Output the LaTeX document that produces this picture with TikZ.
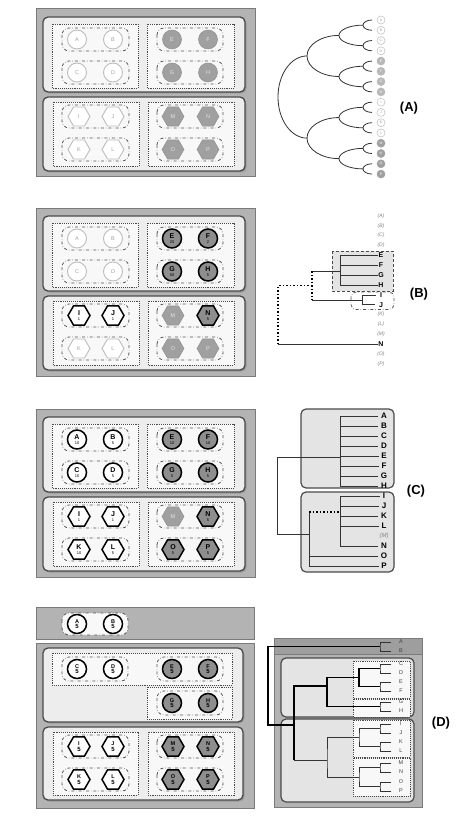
\documentclass[tikz,border=0pt]{standalone}
\usepackage{fontspec}
\setmainfont{Liberation Sans}
\usetikzlibrary{shapes.geometric,calc}
\definecolor{outerfill}{HTML}{B3B3B3}
\definecolor{outerdraw}{HTML}{7A7A7A}
\definecolor{innerfill}{HTML}{EDEDED}
\definecolor{innerdraw}{HTML}{4A4A4A}
\definecolor{groupfill}{HTML}{F8F8F8}
\definecolor{groupdraw}{HTML}{4A4A4A}
\definecolor{pairdraw}{HTML}{555555}
\definecolor{gfill}{HTML}{8E8E8E}
\definecolor{afill}{HTML}{A0A0A0}
\definecolor{faint}{HTML}{BDBDBD}
\definecolor{treeline}{HTML}{333333}
\definecolor{treebox}{HTML}{E4E4E4}
\tikzset{
  outerbox/.style={fill=outerfill, draw=outerdraw, line width=1pt},
  innerbox/.style={fill=innerfill, draw=innerdraw, line width=1.3pt, rounded corners=5pt},
  shadowbox/.style={fill=black!40, rounded corners=5pt},
  groupbox/.style={fill=groupfill, draw=groupdraw, densely dotted, line width=0.9pt},
  pairbox/.style={draw=pairdraw, dash dot, line width=0.8pt, rounded corners=7pt},
  circ/.style={circle, minimum size=19pt, inner sep=0pt, align=center, font=\fontsize{5}{5}\selectfont},
  hexa/.style={regular polygon, regular polygon sides=6, minimum size=22pt, inner sep=0pt, align=center, font=\fontsize{5}{5}\selectfont},
  aw/.style={fill=white, draw=faint, line width=0.9pt, text=faint!85!black},
  ag/.style={fill=afill, draw=afill!90!black, line width=0.5pt, text=white!80!gray},
  bw/.style={fill=white, draw=black, line width=1.5pt, text=black},
  bg/.style={fill=gfill, draw=black, line width=1.5pt, text=black},
  leafc/.style={circle, minimum size=8pt, inner sep=0pt, font=\fontsize{3.5}{4}\selectfont},
  lw/.style={fill=white, draw=faint, line width=0.5pt, text=faint!80!black},
  lg/.style={fill=afill!75, draw=afill!75, line width=0.5pt, text=white},
  ldg/.style={fill=afill, draw=afill, line width=0.5pt, text=white},
  treeA/.style={draw=treeline, line width=0.8pt},
  tline/.style={draw=treeline, line width=0.8pt},
  tthick/.style={draw=black, line width=1.6pt},
  tdot/.style={draw=black, dotted, line width=1.5pt},
  blab/.style={font=\fontsize{7}{7}\selectfont\bfseries, inner sep=0.5pt},
  bit/.style={font=\fontsize{5}{5}\selectfont\itshape, text=gray, inner sep=0.5pt},
  clab/.style={font=\fontsize{8}{8}\selectfont\bfseries, inner sep=0.5pt},
  dlab/.style={font=\fontsize{5.5}{5.5}\selectfont, text=black!75, inner sep=0.5pt},
  panlab/.style={font=\fontsize{13}{13}\selectfont\bfseries},
  treeboxs/.style={fill=treebox, draw=innerdraw, line width=1.2pt, rounded corners=5pt}
}
\newcommand\la[1]{{\fontsize{5.5}{6}\selectfont #1}}
\newcommand\lb[2]{{\fontsize{7}{7}\selectfont\bfseries #1}\\[-0.5pt]{\fontsize{4}{4}\selectfont #2}}
\newcommand\ld[2]{{\fontsize{5.5}{5.5}\selectfont\bfseries #1}\\[0.5pt]{\fontsize{6}{6}\selectfont\bfseries #2}}
\newcommand\pn[6]{\node[#2,#3] (#1) at (#4,#5) {#6};}
\newcommand\arcto[2]{\draw[treeA] (#1) .. controls ($(#1)!0.552!(#1|-#2)$) and ($(#2)!0.552!(#1|-#2)$) .. (#2);}
\newcommand\leftboxes{%
  \draw[outerbox] (36,9) rectangle (255,177);
  \fill[shadowbox] (44.5,18.5) rectangle (246.5,93.5);
  \draw[innerbox] (43,17) rectangle (245,92);
  \fill[shadowbox] (44.5,98.5) rectangle (246.5,172.5);
  \draw[innerbox] (43,97) rectangle (245,171);
  \draw[groupbox] (52,24) rectangle (138,88);
  \draw[groupbox] (147,24) rectangle (234,88);
  \draw[groupbox] (53,102) rectangle (139,166);
  \draw[groupbox] (148,102) rectangle (234,166);
  \draw[pairbox] (62,28) rectangle (129,51);
  \draw[pairbox] (62,61) rectangle (129,84);
  \draw[pairbox] (157,28) rectangle (223,51);
  \draw[pairbox] (157,61) rectangle (223,84);
  \draw[pairbox] (62,105) rectangle (129,128);
  \draw[pairbox] (62,138) rectangle (129,161);
  \draw[pairbox] (157,105) rectangle (223,128);
  \draw[pairbox] (157,138) rectangle (223,161);
}
\begin{document}
\begin{tikzpicture}[x=1pt,y=-1pt]
\useasboundingbox (0,0) rectangle (474,821);
\fill[white] (0,0) rectangle (474,821);

% ================= Panel A left
\begin{scope}
\leftboxes
\pn{pA-A}{circ}{aw}{77}{39.5}{\la{A}}
\pn{pA-B}{circ}{aw}{113}{39.5}{\la{B}}
\pn{pA-E}{circ}{ag}{172}{39.5}{\la{E}}
\pn{pA-F}{circ}{ag}{208}{39.5}{\la{F}}
\pn{pA-C}{circ}{aw}{77}{72.5}{\la{C}}
\pn{pA-D}{circ}{aw}{113}{72.5}{\la{D}}
\pn{pA-G}{circ}{ag}{172}{72.5}{\la{G}}
\pn{pA-H}{circ}{ag}{208}{72.5}{\la{H}}
\pn{pA-I}{hexa}{aw}{79}{116.5}{\la{I}}
\pn{pA-J}{hexa}{aw}{113}{116.5}{\la{J}}
\pn{pA-M}{hexa}{ag}{173}{116.5}{\la{M}}
\pn{pA-N}{hexa}{ag}{208}{116.5}{\la{N}}
\pn{pA-K}{hexa}{aw}{79}{149.5}{\la{K}}
\pn{pA-L}{hexa}{aw}{113}{149.5}{\la{L}}
\pn{pA-O}{hexa}{ag}{173}{149.5}{\la{O}}
\pn{pA-P}{hexa}{ag}{208}{149.5}{\la{P}}
\end{scope}

% ================= Panel B left
\begin{scope}[shift={(0,199)}]
\leftboxes
\pn{pB-A}{circ}{aw}{77}{39.5}{\la{A}}
\pn{pB-B}{circ}{aw}{113}{39.5}{\la{B}}
\pn{pB-E}{circ}{bg}{172}{39.5}{\lb{E}{25}}
\pn{pB-F}{circ}{bg}{208}{39.5}{\lb{F}{2}}
\pn{pB-C}{circ}{aw}{77}{72.5}{\la{C}}
\pn{pB-D}{circ}{aw}{113}{72.5}{\la{D}}
\pn{pB-G}{circ}{bg}{172}{72.5}{\lb{G}{50}}
\pn{pB-H}{circ}{bg}{208}{72.5}{\lb{H}{5}}
\pn{pB-I}{hexa}{bw}{79}{116.5}{\lb{I}{1}}
\pn{pB-J}{hexa}{bw}{113}{116.5}{\lb{J}{1}}
\pn{pB-M}{hexa}{ag}{173}{116.5}{\la{M}}
\pn{pB-N}{hexa}{bg}{208}{116.5}{\lb{N}{5}}
\pn{pB-K}{hexa}{aw}{79}{149.5}{\la{K}}
\pn{pB-L}{hexa}{aw}{113}{149.5}{\la{L}}
\pn{pB-O}{hexa}{ag}{173}{149.5}{\la{O}}
\pn{pB-P}{hexa}{ag}{208}{149.5}{\la{P}}
\end{scope}

% ================= Panel C left
\begin{scope}[shift={(0,400)}]
\leftboxes
\pn{pC-A}{circ}{bw}{77}{39.5}{\lb{A}{10}}
\pn{pC-B}{circ}{bw}{113}{39.5}{\lb{B}{5}}
\pn{pC-E}{circ}{bg}{172}{39.5}{\lb{E}{10}}
\pn{pC-F}{circ}{bg}{208}{39.5}{\lb{F}{10}}
\pn{pC-C}{circ}{bw}{77}{72.5}{\lb{C}{10}}
\pn{pC-D}{circ}{bw}{113}{72.5}{\lb{D}{5}}
\pn{pC-G}{circ}{bg}{172}{72.5}{\lb{G}{5}}
\pn{pC-H}{circ}{bg}{208}{72.5}{\lb{H}{5}}
\pn{pC-I}{hexa}{bw}{79}{116.5}{\lb{I}{1}}
\pn{pC-J}{hexa}{bw}{113}{116.5}{\lb{J}{1}}
\pn{pC-M}{hexa}{ag}{173}{116.5}{\la{M}}
\pn{pC-N}{hexa}{bg}{208}{116.5}{\lb{N}{5}}
\pn{pC-K}{hexa}{bw}{79}{149.5}{\lb{K}{10}}
\pn{pC-L}{hexa}{bw}{113}{149.5}{\lb{L}{5}}
\pn{pC-O}{hexa}{bg}{173}{149.5}{\lb{O}{5}}
\pn{pC-P}{hexa}{bg}{208}{149.5}{\lb{P}{5}}
\end{scope}

% ================= Panel D left
\draw[outerbox] (36,607) rectangle (254,639);
\draw[outerbox] (36,643) rectangle (254,808);
\fill[shadowbox] (44.5,649.5) rectangle (244.5,723.5);
\draw[innerbox] (43,648) rectangle (243,722);
\fill[shadowbox] (44.5,728.5) rectangle (244.5,801.5);
\draw[innerbox] (43,727) rectangle (243,800);
\draw[groupbox] (52,653) rectangle (232,685);
\draw[groupbox] (147,687) rectangle (232,719);
\draw[groupbox] (53,732) rectangle (138,795);
\draw[groupbox] (148,732) rectangle (234,795);
\draw[pairbox, fill=groupfill] (62,613) rectangle (128,635);
\draw[pairbox] (62,657) rectangle (128,681);
\draw[pairbox] (157,657) rectangle (223,681);
\draw[pairbox] (157,691) rectangle (223,715);
\draw[pairbox] (62,735) rectangle (129,758);
\draw[pairbox] (62,768) rectangle (129,791);
\draw[pairbox] (157,735) rectangle (223,758);
\draw[pairbox] (157,768) rectangle (223,791);
\pn{pD-A}{circ}{bw}{77}{624}{\ld{A}{5}}
\pn{pD-B}{circ}{bw}{113}{624}{\ld{B}{5}}
\pn{pD-C}{circ}{bw}{77}{669}{\ld{C}{5}}
\pn{pD-D}{circ}{bw}{113}{669}{\ld{D}{5}}
\pn{pD-E}{circ}{bg}{172}{669}{\ld{E}{5}}
\pn{pD-F}{circ}{bg}{208}{669}{\ld{F}{5}}
\pn{pD-G}{circ}{bg}{172}{703}{\ld{G}{5}}
\pn{pD-H}{circ}{bg}{208}{703}{\ld{H}{5}}
\pn{pD-I}{hexa}{bw}{79}{746.5}{\ld{I}{5}}
\pn{pD-J}{hexa}{bw}{113}{746.5}{\ld{J}{5}}
\pn{pD-M}{hexa}{bg}{173}{746.5}{\ld{M}{5}}
\pn{pD-N}{hexa}{bg}{208}{746.5}{\ld{N}{5}}
\pn{pD-K}{hexa}{bw}{79}{779.5}{\ld{K}{5}}
\pn{pD-L}{hexa}{bw}{113}{779.5}{\ld{L}{5}}
\pn{pD-O}{hexa}{bg}{173}{779.5}{\ld{O}{5}}
\pn{pD-P}{hexa}{bg}{208}{779.5}{\ld{P}{5}}

% ================= Tree A
\foreach \L [count=\i from 0] in {A,B,C,D,E,F,G,H,I,J,K,L,M,N,O,P} {
  \pgfmathsetmacro\yy{20+10.27*\i}
  \coordinate (tA-e\i) at (372,\yy);
  \ifnum\i<4 \def\lk{lw}\else\ifnum\i<8 \def\lk{lg}\else\ifnum\i<12 \def\lk{lw}\else\def\lk{ldg}\fi\fi\fi
  \node[leafc,\lk] (tA-\L) at (381,\yy) {\L};
}
\foreach \k in {0,...,7} {
  \pgfmathsetmacro\yy{20+10.27*(2*\k+0.5)}
  \coordinate (tA-p\k) at (363,\yy);
  \pgfmathtruncatemacro\ca{2*\k}\pgfmathtruncatemacro\cb{2*\k+1}
  \arcto{tA-p\k}{tA-e\ca}\arcto{tA-p\k}{tA-e\cb}
}
\foreach \k in {0,...,3} {
  \pgfmathsetmacro\yy{20+10.27*(4*\k+1.5)}
  \coordinate (tA-q\k) at (339,\yy);
  \pgfmathtruncatemacro\ca{2*\k}\pgfmathtruncatemacro\cb{2*\k+1}
  \arcto{tA-q\k}{tA-p\ca}\arcto{tA-q\k}{tA-p\cb}
}
\foreach \k in {0,1} {
  \pgfmathsetmacro\yy{20+10.27*(8*\k+3.5)}
  \coordinate (tA-r\k) at (307,\yy);
  \pgfmathtruncatemacro\ca{2*\k}\pgfmathtruncatemacro\cb{2*\k+1}
  \arcto{tA-r\k}{tA-q\ca}\arcto{tA-r\k}{tA-q\cb}
}
\coordinate (tA-root) at (278,97);
\arcto{tA-root}{tA-r0}\arcto{tA-root}{tA-r1}
\node[panlab] (labA) at (409,108) {(A)};

% ================= Tree B
\fill[treebox] (332,251) rectangle (393,291);
\draw[groupdraw, densely dashed, line width=0.9pt] (332,251) rectangle (393,291);
\draw[pairdraw, dash dot, line width=0.8pt, rounded corners=5pt] (351,292) rectangle (394,309.5);
\node[bit] (tB-A) at (381,216) {(A)};
\node[bit] (tB-B) at (381,225.9) {(B)};
\node[bit] (tB-C) at (381,235.7) {(C)};
\node[bit] (tB-D) at (381,245.6) {(D)};
\node[blab] (tB-E) at (381,255.5) {E};
\node[blab] (tB-F) at (381,265.4) {F};
\node[blab] (tB-G) at (381,275.2) {G};
\node[blab] (tB-H) at (381,285.1) {H};
\node[blab] (tB-I) at (381,295) {I};
\node[blab] (tB-J) at (381,304.8) {J};
\node[bit] (tB-K) at (381,314.7) {(K)};
\node[bit] (tB-L) at (381,324.6) {(L)};
\node[bit] (tB-M) at (381,334.4) {(M)};
\node[blab] (tB-N) at (381,344.3) {N};
\node[bit] (tB-O) at (381,354.2) {(O)};
\node[bit] (tB-P) at (381,364) {(P)};
\coordinate (tB-eh) at (340,271);
\coordinate (tB-ij) at (362,300);
\coordinate (tB-x) at (312,285.5);
\coordinate (tB-root) at (278,285.5);
\draw[tline] (tB-eh|-tB-E) -- (tB-eh|-tB-H);
\foreach \L in {E,F,G,H} \draw[tline] (tB-eh|-tB-\L) -- (tB-\L.west);
\draw[tline] (tB-ij|-tB-I) -- (tB-ij|-tB-J);
\draw[tline] (tB-ij|-tB-I) -- ([xshift=-3pt]tB-I.west);
\draw[tline] (tB-ij|-tB-J) -- ([xshift=-3pt]tB-J.west);
\draw[tline] (tB-x|-tB-eh) -- (tB-eh);
\draw[tline] (tB-x|-tB-ij) -- (tB-ij);
\draw[tdot] (tB-x|-tB-eh) -- (tB-x|-tB-ij);
\draw[tdot] (tB-x) -- (tB-root) -- (tB-root|-tB-N);
\draw[tline] (tB-root|-tB-N) -- (tB-N.west);
\node[panlab] (labB) at (419,294) {(B)};

% ================= Tree C
\draw[treeboxs] (301,409) rectangle (394,488);
\draw[treeboxs] (301,492) rectangle (394,572);
\foreach \L/\yy in {A/416,B/426,C/436,D/446,E/456,F/466,G/476,H/486,I/496,J/506,K/516,L/526,N/546,O/556,P/566}
  \node[clab] (tC-\L) at (384,\yy) {\L};
\node[bit, font=\fontsize{6}{6}\selectfont\itshape] (tC-M) at (384,536) {(M)};
\coordinate (tC-ah) at (340,457);
\coordinate (tC-in) at (340,512);
\coordinate (tC-lo) at (309,534);
\coordinate (tC-root) at (277,457);
\draw[tline] (tC-ah|-tC-A) -- (tC-ah|-tC-H);
\foreach \L in {A,B,C,D,E,F,G,H} \draw[tline] (tC-ah|-tC-\L) -- ([xshift=-2pt]tC-\L.west);
\draw[tline] (tC-in|-tC-I) -- (tC-in|-tC-N);
\foreach \L in {I,J,K,L,N} \draw[tline] (tC-in|-tC-\L) -- ([xshift=-2pt]tC-\L.west);
\draw[tline] (tC-lo|-tC-in) -- (tC-lo|-tC-P);
\foreach \L in {O,P} \draw[tline] (tC-lo|-tC-\L) -- ([xshift=-2pt]tC-\L.west);
\draw[tdot] (tC-lo|-tC-in) -- (tC-in);
\draw[tline] (tC-ah) -- (tC-root) |- (tC-lo);
\node[panlab] (labC) at (416,491) {(C)};

% ================= Tree D
\draw[outerbox] (274,638) rectangle (422,807);
\draw[outerbox, fill=outerfill!88!black] (274,638) rectangle (422,654);
\draw[treeboxs] (281,658) rectangle (414,717);
\draw[treeboxs] (281,719) rectangle (414,802);
\draw[groupbox] (353,661) rectangle (410,698);
\draw[groupbox] (353,699) rectangle (410,717);
\draw[groupbox] (353,720) rectangle (410,757);
\draw[groupbox] (353,758) rectangle (410,796);
\foreach \L/\yy in {A/642,B/651,C/664,D/673,E/682,F/691,G/702,H/711,I/724,J/733,K/742,L/751,M/763,N/772,O/782,P/791} {
  \node[dlab] (tD-\L) at (401,\yy) {\L};
  \coordinate (tD-e\L) at (391,\yy);
}
\coordinate (tD-pAB) at (380,646.5);
\coordinate (tD-pCD) at (380,668.5);
\coordinate (tD-pEF) at (380,686.5);
\coordinate (tD-pGH) at (380,706.5);
\coordinate (tD-pIJ) at (380,728.5);
\coordinate (tD-pKL) at (380,746.5);
\coordinate (tD-pMN) at (380,767.5);
\coordinate (tD-pOP) at (380,786.5);
\foreach \a/\b in {A/B,C/D,E/F,G/H,I/J,K/L,M/N,O/P}
  \draw[tline] (tD-e\a) -| (tD-p\a\b) |- (tD-e\b);
\coordinate (tD-qCF) at (359,677.5);
\coordinate (tD-qIL) at (359,737.5);
\coordinate (tD-qMP) at (359,777);
\coordinate (tD-rCH) at (327,686);
\coordinate (tD-rIP) at (327,760);
\coordinate (tD-s) at (294,725);
\coordinate (tD-root) at (268,686);
\draw[tthick] (tD-pCD) -| (tD-qCF) |- (tD-pEF);
\draw[tthick] (tD-qCF) -| (tD-rCH) |- (tD-pGH);
\draw[tline] (tD-pIJ) -| (tD-qIL) |- (tD-pKL);
\draw[tline] (tD-pMN) -| (tD-qMP) |- (tD-pOP);
\draw[tline] (tD-qIL) -| (tD-rIP) |- (tD-qMP);
\draw[tthick] (tD-rCH) -| (tD-s) -- (tD-s|-tD-rIP);
\draw[tline] (tD-s|-tD-rIP) -- (tD-rIP);
\draw[tthick] (tD-pAB) -| (tD-root) |- (tD-s);
\node[panlab] (labD) at (441,723) {(D)};
\end{tikzpicture}
\end{document}
